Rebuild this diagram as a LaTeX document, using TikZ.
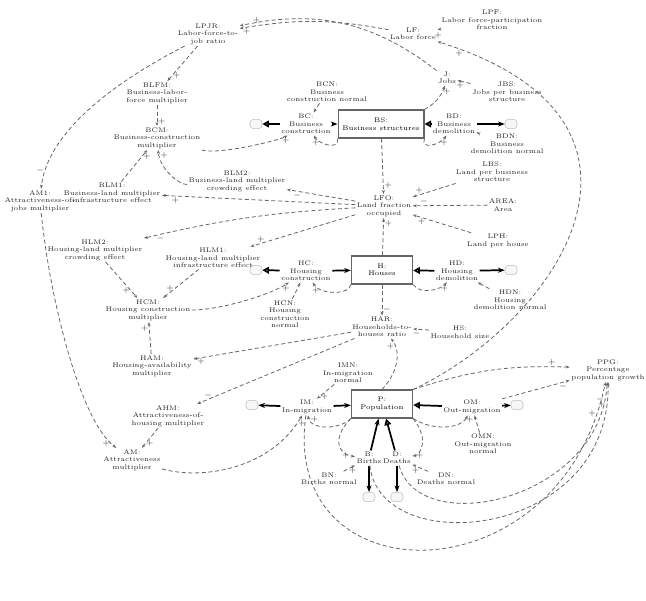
\documentclass[tikz,border=0pt]{standalone}
\usetikzlibrary{arrows.meta}
\begin{document}
\begin{tikzpicture}[x=0.75pt,y=-0.75pt,
  v/.style={font=\fontsize{5}{5.6}\selectfont,align=center,inner sep=1pt,text=black!85},
  st/.style={draw=black!60,thick,fill=white,minimum width=46pt,minimum height=21pt,font=\fontsize{5}{5.6}\selectfont,align=center},
  cl/.style={draw=black!25,fill=black!3,rectangle,minimum width=9pt,minimum height=7pt,inner sep=0pt,rounded corners=2.5pt},
  ln/.style={densely dashed,black!60,-{Stealth[length=3pt]},semithick},
  fl/.style={line width=1.3pt,-{Stealth[length=5pt]}},
  fo/.style={line width=1.3pt,-{Triangle[open,length=5pt,width=5pt]}},
  pl/.style={font=\fontsize{6}{6}\selectfont,inner sep=0.5pt,black!80}]
\useasboundingbox (0,0) rectangle (646,600);
% stocks
\node[st] (BS) at (381,124) {BS:\\Business structures};
\node[st] (H) at (382,270) {H:\\Houses};
\node[st] (P) at (382,404) {P:\\Population};
% clouds
\node[cl] (c1) at (256,124) {};
\node[cl] (c2) at (511,124) {};
\node[cl] (c3) at (256,270) {};
\node[cl] (c4) at (511,270) {};
\node[cl] (c5) at (252,405) {};
\node[cl] (c6) at (517,405) {};
\node[cl] (c7) at (369,497) {};
\node[cl] (c8) at (397,497) {};
% variables
\node[v] (LPJR) at (208,34) {LPJR:\\Labor-force-to-\\job ratio};
\node[v] (LF) at (413,34) {LF:\\Labor force};
\node[v] (LPF) at (492,20) {LPF:\\Labor force-participation\\fraction};
\node[v] (J) at (447,78) {J:\\Jobs};
\node[v] (JBS) at (507,92) {JBS:\\Jobs per business\\structure};
\node[v] (BCN) at (327,92) {BCN:\\Business\\construction normal};
\node[v] (BC) at (306,124) {BC:\\Business\\construction};
\node[v] (BD) at (454,124) {BD:\\Business\\demolition};
\node[v] (BDN) at (507,144) {BDN:\\Business\\demolition normal};
\node[v] (BLFM) at (157,93) {BLFM:\\Business-labor-\\force multiplier};
\node[v] (BCM) at (157,138) {BCM:\\Business-construction\\multiplier};
\node[v] (BLM1) at (112,193) {BLM1:\\Business-land multiplier\\infrastructure effect};
\node[v] (BLM2) at (237,181) {BLM2:\\Business-land multiplier\\crowding effect};
\node[v] (LFO) at (384,206) {LFO:\\Land fraction\\occupied};
\node[v] (LBS) at (492,172) {LBS:\\Land per business\\structure};
\node[v] (AREA) at (503,205) {AREA:\\Area};
\node[v] (LPH) at (498,241) {LPH:\\Land per house};
\node[v] (AM1) at (40,201) {AM1:\\Attractiveness-of-\\jobs multiplier};
\node[v] (HLM2) at (95,250) {HLM2:\\Housing-land multiplier\\crowding effect};
\node[v] (HLM1) at (213,258) {HLM1:\\Housing-land multiplier\\infrastructure effect};
\node[v] (HC) at (306,271) {HC:\\Housing\\construction};
\node[v] (HD) at (457,271) {HD:\\Housing\\demolition};
\node[v] (HDN) at (510,300) {HDN:\\Housing\\demolition normal};
\node[v] (HCN) at (285,314) {HCN:\\Housing\\construction\\normal};
\node[v] (HCM) at (148,310) {HCM:\\Housing construction\\multiplier};
\node[v] (HAM) at (152,366) {HAM:\\Housing-availability\\multiplier};
\node[v] (HAR) at (382,327) {HAR:\\Households-to-\\houses ratio};
\node[v] (HS) at (460,332) {HS:\\Household size};
\node[v] (IMN) at (348,373) {IMN:\\In-migration\\normal};
\node[v] (AHM) at (168,416) {AHM:\\Attractiveness-of-\\housing multiplier};
\node[v] (IM) at (307,407) {IM:\\In-migration};
\node[v] (OM) at (472,407) {OM:\\Out-migration};
\node[v] (OMN) at (483,444) {OMN:\\Out-migration\\normal};
\node[v] (B) at (369,458) {B:\\Births};
\node[v] (D) at (397,458) {D:\\Deaths};
\node[v] (BN) at (329,479) {BN:\\Births normal};
\node[v] (DN) at (446,479) {DN:\\Deaths normal};
\node[v] (AM) at (132,460) {AM:\\Attractiveness\\multiplier};
\node[v] (PPG) at (608,370) {PPG:\\Percentage\\population growth};
% flows
\draw[fl] (BC) -- (BS); \draw[fo] (BC) -- (c1);
\draw[fo] (BD) -- (BS); \draw[fl] (BD) -- (c2);
\draw[fl] (HC) -- (H); \draw[fo] (HC) -- (c3);
\draw[fo] (HD) -- (H); \draw[fl] (HD) -- (c4);
\draw[fl] (IM) -- (P); \draw[fl] (IM) -- (c5);
\draw[fo] (OM) -- (P); \draw[fl] (OM) -- (c6);
\draw[fl] (B) -- (P); \draw[fl] (B) -- (c7);
\draw[fo] (D) -- (P); \draw[fl] (D) -- (c8);
% links
\draw[ln] (LF) to[bend right=10] node[pl,pos=0.9,above=1pt]{+} (LPJR);
\draw[ln] (J) to[bend right=25] node[pl,pos=0.97,below=2pt]{+} (LPJR);
\draw[ln] (LPF) -- node[pl,pos=0.8,below=1pt]{+} (LF);
\draw[ln] (P.north east) .. controls (560,320) and (690,120) .. node[pl,pos=0.97,below]{+} (LF);
\draw[ln] (BS.north east) to[bend right=20] node[pl,pos=0.8,right]{+} (J);
\draw[ln] (JBS) -- node[pl,pos=0.8,below]{+} (J);
\draw[ln] (LPJR) -- node[pl,pos=0.85,right]{+} (BLFM);
\draw[ln] (BLFM) -- node[pl,pos=0.8,right]{+} (BCM);
\draw[ln] (BCM) .. controls (220,155) and (280,140) .. node[pl,pos=0.95,below]{+} (BC);
\draw[ln] (BCN) -- (BC);
\draw[ln] (BS.south west) .. controls (340,150) and (320,145) .. node[pl,pos=0.9,below]{+} (BC);
\draw[ln] (BS.south east) .. controls (420,150) and (440,145) .. node[pl,pos=0.9,below]{+} (BD);
\draw[ln] (BDN) -- (BD);
\draw[ln] (BS) -- node[pl,pos=0.85,right]{+} (LFO);
\draw[ln] (LBS) -- node[pl,pos=0.85,above]{+} (LFO);
\draw[ln] (AREA) -- node[pl,pos=0.85,above]{$-$} (LFO);
\draw[ln] (LPH) -- node[pl,pos=0.85,below]{+} (LFO);
\draw[ln] (H) -- node[pl,pos=0.85,right]{+} (LFO);
\draw[ln] (LFO) -- node[pl,pos=0.85,below]{$-$} (BLM2);
\draw[ln] (LFO) -- node[pl,pos=0.93,below]{+} (BLM1);
\draw[ln] (LFO) to[bend right=5] node[pl,pos=0.93,below]{$-$} (HLM2);
\draw[ln] (LFO) -- node[pl,pos=0.9,above]{+} (HLM1);
\draw[ln] (BLM1) -- node[pl,pos=0.8,right]{+} (BCM);
\draw[ln] (BLM2) .. controls (180,185) and (160,170) .. node[pl,pos=0.9,right]{+} (BCM);
\draw[ln] (HLM2) -- node[pl,pos=0.8,left]{+} (HCM);
\draw[ln] (HLM1) -- node[pl,pos=0.8,above]{+} (HCM);
\draw[ln] (HAM) -- node[pl,pos=0.8,left]{+} (HCM);
\draw[ln] (HCM) .. controls (220,310) and (270,295) .. node[pl,pos=0.95,below]{+} (HC);
\draw[ln] (HCN) -- (HC);
\draw[ln] (H.south west) .. controls (350,295) and (320,295) .. node[pl,pos=0.9,below]{+} (HC);
\draw[ln] (H.south east) .. controls (420,295) and (440,290) .. node[pl,pos=0.9,below]{+} (HD);
\draw[ln] (HDN) -- (HD);
\draw[ln] (H) -- node[pl,pos=0.8,right]{$-$} (HAR);
\draw[ln] (HS) -- node[pl,pos=0.8,below]{$-$} (HAR);
\draw[ln] (P.north) .. controls (400,370) and (400,350) .. node[pl,pos=0.8,left]{+} (HAR);
\draw[ln] (HAR) -- node[pl,pos=0.95,below]{+} (HAM);
\draw[ln] (HAR) -- node[pl,pos=0.93,above]{$-$} (AHM);
\draw[ln] (LPJR) .. controls (80,100) and (45,150) .. node[pl,pos=0.85,left]{$-$} (AM1);
\draw[ln] (AM1) .. controls (50,300) and (80,420) .. node[pl,pos=0.95,left]{+} (AM);
\draw[ln] (AHM) -- node[pl,pos=0.8,right]{+} (AM);
\draw[ln] (AM) .. controls (200,480) and (270,470) .. node[pl,pos=0.95,right]{+} (IM);
\draw[ln] (IMN) -- node[pl,pos=0.85,right]{+} (IM);
\draw[ln] (P.south west) .. controls (340,430) and (310,430) .. node[pl,pos=0.9,right]{+} (IM);
\draw[ln] (P.south east) .. controls (430,430) and (460,430) .. node[pl,pos=0.9,right]{+} (OM);
\draw[ln] (OMN) -- (OM);
\draw[ln] (P.south west) .. controls (330,440) and (340,455) .. node[pl,pos=0.9,left]{+} (B);
\draw[ln] (BN) -- node[pl,pos=0.8,below]{+} (B);
\draw[ln] (P.south east) .. controls (430,440) and (420,455) .. node[pl,pos=0.9,right]{+} (D);
\draw[ln] (DN) -- node[pl,pos=0.8,below]{+} (D);
\draw[ln] (IM) .. controls (280,600) and (560,600) .. node[pl,pos=0.95,left]{+} (PPG);
\draw[ln] (OM) -- node[pl,pos=0.9,below]{$-$} (PPG);
\draw[ln] (B) .. controls (380,560) and (610,540) .. node[pl,pos=0.95,left]{+} (PPG);
\draw[ln] (D) .. controls (420,540) and (600,500) .. node[pl,pos=0.95,left]{$-$} (PPG);
\draw[ln] (P.north east) to[bend left=10] node[pl,pos=0.9,above]{+} (PPG);
\end{tikzpicture}
\end{document}
